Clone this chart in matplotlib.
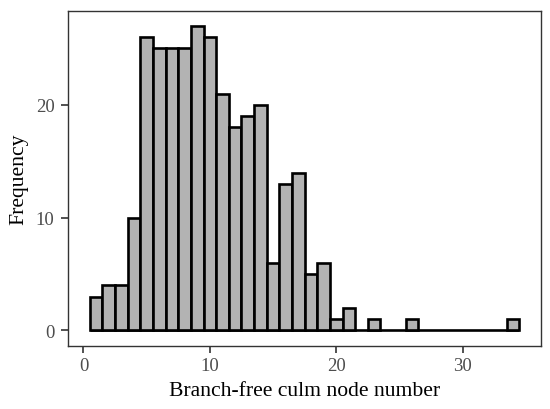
import matplotlib

matplotlib.use("Agg")
import matplotlib.pyplot as plt

# histogram counts, one bin per node number (bin width 1, centred on integers)
node_numbers = list(range(1, 35))
frequency = [3, 4, 4, 10, 26, 25, 25, 25, 27, 26, 21, 18, 19, 20, 6, 13, 14,
             5, 6, 1, 2, 0, 1, 0, 0, 1, 0, 0, 0, 0, 0, 0, 0, 1]
x_ticks = [0, 10, 20, 30]
y_ticks = [0, 10, 20]

plt.rcParams["font.family"] = ["Liberation Serif", "DejaVu Serif"]

fig = plt.figure(figsize=(5.5, 4.1), dpi=100)
ax = fig.add_axes([0.1242, 0.1544, 0.8594, 0.8171])

# empty bins show up as a flat outline along zero, as in ggplot
ax.plot([node_numbers[0] - 0.5, node_numbers[-1] + 0.5], [0, 0],
        color="black", lw=1.9, solid_capstyle="butt", zorder=1)
bars = ax.bar(node_numbers, frequency, width=1.0, color="#B3B3B3",
              edgecolor="black", linewidth=1.9, zorder=2)
for patch, n in zip(bars, frequency):
    if n == 0:
        patch.set_edgecolor("none")

ax.set_xlim(-1.2, 36.2)
ax.set_ylim(-1.35, 28.35)
ax.set_xticks(x_ticks)
ax.set_yticks(y_ticks)
ax.tick_params(colors="#333333", labelcolor="#4D4D4D", labelsize=13.5,
               length=5, width=1.2)
ax.tick_params(axis="x", pad=3)
ax.tick_params(axis="y", pad=5)
for s in ax.spines.values():
    s.set_color("#333333")
    s.set_linewidth(1.0)

ax.set_xlabel("Branch-free culm node number", fontsize=15.6, labelpad=5)
ax.set_ylabel("Frequency", fontsize=15.6, labelpad=5)

fig.savefig("out.png", dpi=100)
